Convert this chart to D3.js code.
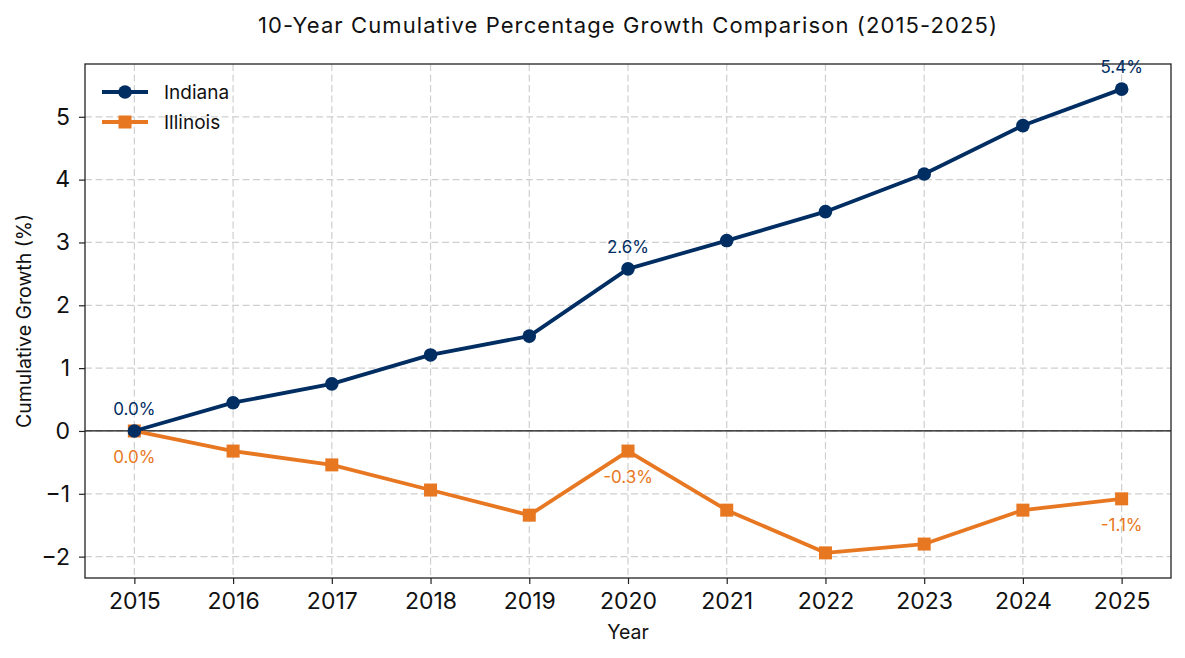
<!DOCTYPE html>
<html><head><meta charset="utf-8">
<script src="https://cdn.jsdelivr.net/npm/d3@7"></script>
<style>body{margin:0;background:#fff}svg{display:block}text{font-family:Inter,"Open Sans",sans-serif}</style>
</head><body>
<script>
const years = [2015,2016,2017,2018,2019,2020,2021,2022,2023,2024,2025];
const indiana = [0.0,0.45,0.75,1.21,1.51,2.58,3.03,3.49,4.09,4.86,5.44];
const illinois = [0.0,-0.32,-0.54,-0.94,-1.34,-0.32,-1.26,-1.94,-1.80,-1.26,-1.08];
const yTicks = [-2,-1,0,1,2,3,4,5];
const labelIdx = [0,5,10];
const title = "10-Year Cumulative Percentage Growth Comparison (2015-2025)";

const W=1185,H=658;
const m={l:85,r:1171,t:64,b:578};
const navy="#002D62", orange="#E87722";
const svg=d3.select("body").append("svg").attr("width",W).attr("height",H);
const x=d3.scaleLinear().domain([2014.5,2025.5]).range([m.l,m.r]);
const y=d3.scaleLinear().domain([-2.34,5.84]).range([m.b,m.t]);

const g=svg.append("g");
g.selectAll(".vg").data(years).join("line").attr("x1",d=>x(d)).attr("x2",d=>x(d)).attr("y1",m.t).attr("y2",m.b)
 .attr("stroke","#cfcfcf").attr("stroke-dasharray","7,3.5").attr("stroke-width",1.2);
g.selectAll(".hg").data(yTicks).join("line").attr("y1",d=>y(d)).attr("y2",d=>y(d)).attr("x1",m.l).attr("x2",m.r)
 .attr("stroke","#cfcfcf").attr("stroke-dasharray","7,3.5").attr("stroke-width",1.2);
svg.append("line").attr("x1",m.l).attr("x2",m.r).attr("y1",y(0)).attr("y2",y(0)).attr("stroke","#111").attr("stroke-width",1.3);

const xa=svg.append("g").attr("transform",`translate(0,${m.b})`).call(d3.axisBottom(x).tickValues(years).tickFormat(d3.format("d")).tickSize(6).tickPadding(9).tickSizeOuter(0));
const ya=svg.append("g").attr("transform",`translate(${m.l},0)`).call(d3.axisLeft(y).tickValues(yTicks).tickFormat(d=>d<0?"\u2212"+Math.abs(d):d).tickSize(6).tickPadding(9).tickSizeOuter(0));
[xa,ya].forEach(a=>{a.select(".domain").remove();a.selectAll("line").attr("stroke","#222").attr("stroke-width",1.2);a.selectAll("text").attr("font-size",23).attr("fill","#111");});
svg.append("rect").attr("x",m.l).attr("y",m.t).attr("width",m.r-m.l).attr("height",m.b-m.t).attr("fill","none").attr("stroke","#222").attr("stroke-width",1.3);

const line=d3.line().x((d,i)=>x(years[i])).y(d=>y(d));
svg.append("path").datum(illinois).attr("d",line).attr("fill","none").attr("stroke",orange).attr("stroke-width",3.8).attr("stroke-linejoin","round");
svg.selectAll(".sq").data(illinois).join("rect").attr("x",(d,i)=>x(years[i])-6.5).attr("y",d=>y(d)-6.5).attr("width",13).attr("height",13).attr("fill",orange);
svg.append("path").datum(indiana).attr("d",line).attr("fill","none").attr("stroke",navy).attr("stroke-width",3.8).attr("stroke-linejoin","round");
svg.selectAll(".ci").data(indiana).join("circle").attr("cx",(d,i)=>x(years[i])).attr("cy",d=>y(d)).attr("r",6.8).attr("fill",navy);

labelIdx.forEach(i=>{
  svg.append("text").attr("x",x(years[i])).attr("y",y(indiana[i])-16).attr("text-anchor","middle").attr("font-size",17).attr("fill",navy).text(indiana[i].toFixed(1)+"%");
  svg.append("text").attr("x",x(years[i])).attr("y",y(illinois[i])+32).attr("text-anchor","middle").attr("font-size",17).attr("fill",orange).text(illinois[i].toFixed(1)+"%");
});

[["Indiana",navy,"c"],["Illinois",orange,"s"]].forEach((e,k)=>{
  const yy=92+k*30;
  svg.append("line").attr("x1",102).attr("x2",148).attr("y1",yy).attr("y2",yy).attr("stroke",e[1]).attr("stroke-width",3.8);
  if(e[2]==="c") svg.append("circle").attr("cx",125).attr("cy",yy).attr("r",6.8).attr("fill",e[1]);
  else svg.append("rect").attr("x",118.5).attr("y",yy-6.5).attr("width",13).attr("height",13).attr("fill",e[1]);
  svg.append("text").attr("x",164).attr("y",yy+7).attr("font-size",19).attr("fill","#111").text(e[0]);
});

svg.append("text").attr("x",(m.l+m.r)/2).attr("y",33).attr("text-anchor","middle").attr("font-size",22).attr("letter-spacing","1.1px").attr("fill","#111").text(title);
svg.append("text").attr("x",(m.l+m.r)/2).attr("y",639).attr("text-anchor","middle").attr("font-size",19.5).attr("fill","#111").text("Year");
svg.append("text").attr("transform",`translate(31,${(m.t+m.b)/2}) rotate(-90)`).attr("text-anchor","middle").attr("font-size",19.5).attr("fill","#111").text("Cumulative Growth (%)");
</script>
</body></html>
